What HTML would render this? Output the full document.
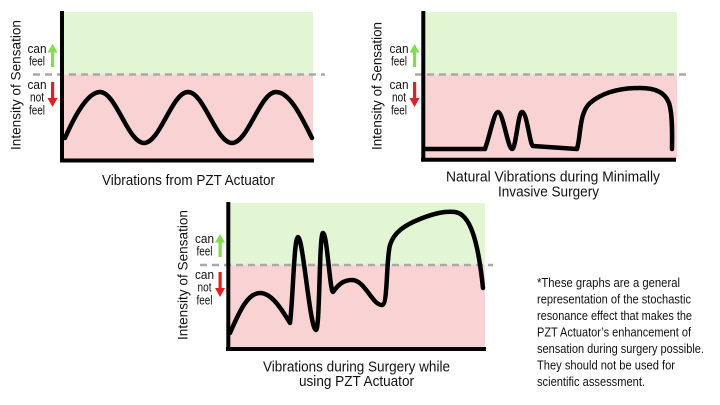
<!DOCTYPE html>
<html>
<head>
<meta charset="utf-8">
<style>
html,body{margin:0;padding:0;background:#fff;}
svg{display:block;}
text{font-family:"Liberation Sans",Arial,sans-serif;fill:#111;}
</style>
</head>
<body>
<svg width="720" height="405" viewBox="0 0 720 405" xmlns="http://www.w3.org/2000/svg">
  <rect width="720" height="405" fill="#fff"/>
  <defs>
    <g id="lab">
      <text x="37" y="53" font-size="13" text-anchor="middle" textLength="19" lengthAdjust="spacingAndGlyphs">can</text>
      <text x="37" y="65.5" font-size="13" text-anchor="middle" textLength="16" lengthAdjust="spacingAndGlyphs">feel</text>
      <text x="37" y="89" font-size="13" text-anchor="middle" textLength="19" lengthAdjust="spacingAndGlyphs">can</text>
      <text x="37" y="101.5" font-size="13" text-anchor="middle" textLength="14" lengthAdjust="spacingAndGlyphs">not</text>
      <text x="37" y="114.5" font-size="13" text-anchor="middle" textLength="16" lengthAdjust="spacingAndGlyphs">feel</text>
      <polygon points="52.5,44 57.5,52.5 47.5,52.5" fill="#7edf48"/>
      <rect x="51" y="52" width="3.2" height="15" fill="#7edf48"/>
      <rect x="51" y="82" width="3.2" height="16.5" fill="#e61e1e"/>
      <polygon points="47.5,98 57.5,98 52.5,107" fill="#e61e1e"/>
    </g>
  </defs>

  <!-- ===== Plot 1 ===== -->
  <rect x="62" y="12" width="251" height="62.5" fill="#e3f6d3"/>
  <rect x="62" y="74.5" width="251" height="86" fill="#f9d3d3"/>
  <line x1="33" y1="74.5" x2="325" y2="74.5" stroke="#a9a9a9" stroke-width="2.5" stroke-dasharray="7,5"/>
  <line x1="62" y1="11" x2="62" y2="162" stroke="#000" stroke-width="4"/>
  <line x1="60" y1="160.5" x2="314" y2="160.5" stroke="#000" stroke-width="4"/>
  <path d="M65,138 C75,115 88,92 100,92 C116,92 128,143 144,143 C160,143 172,92 188,92 C204,92 216,143 232,143 C248,143 260,92 276,92 C290,92 302,118 312,138"
        fill="none" stroke="#000" stroke-width="4.5" stroke-linecap="round" stroke-linejoin="round"/>
  <use href="#lab"/>
  <text transform="translate(20.5,85) rotate(-90)" font-size="13.5" text-anchor="middle" textLength="130" lengthAdjust="spacingAndGlyphs">Intensity of Sensation</text>
  <text x="102" y="185" font-size="15" textLength="173" lengthAdjust="spacingAndGlyphs">Vibrations from PZT Actuator</text>

  <!-- ===== Plot 2 ===== -->
  <rect x="423" y="12" width="254" height="62.5" fill="#e3f6d3"/>
  <rect x="423" y="74.5" width="254" height="85" fill="#f9d3d3"/>
  <line x1="415" y1="74.5" x2="687" y2="74.5" stroke="#a9a9a9" stroke-width="2.5" stroke-dasharray="7,5"/>
  <line x1="423.3" y1="11" x2="423.3" y2="161.5" stroke="#000" stroke-width="4"/>
  <line x1="421" y1="159.7" x2="676" y2="159.7" stroke="#000" stroke-width="4"/>
  <path d="M426,149 L485,149 C490,135 494,112 498,112 C503,112 508,149 512,149 C516,149 518,112 522,112 C527,112 530,146 533,146 L577,149 C581,135 579,113 590,103 C603,92 620,88 640,88 C657,88 665,93 669,103 C673,115 672,140 672,149"
        fill="none" stroke="#000" stroke-width="4.5" stroke-linecap="round" stroke-linejoin="round"/>
  <use href="#lab" transform="translate(362,0)"/>
  <text transform="translate(381.5,86) rotate(-90)" font-size="13.5" text-anchor="middle" textLength="128" lengthAdjust="spacingAndGlyphs">Intensity of Sensation</text>
  <text x="446" y="181.5" font-size="15" textLength="214" lengthAdjust="spacingAndGlyphs">Natural Vibrations during Minimally</text>
  <text x="498" y="196.5" font-size="15" textLength="101" lengthAdjust="spacingAndGlyphs">Invasive Surgery</text>

  <!-- ===== Plot 3 ===== -->
  <rect x="228" y="203" width="257" height="62" fill="#e3f6d3"/>
  <rect x="228" y="265" width="257" height="83.5" fill="#f9d3d3"/>
  <line x1="200" y1="265" x2="493" y2="265" stroke="#a9a9a9" stroke-width="2.5" stroke-dasharray="7,5"/>
  <line x1="228.3" y1="202" x2="228.3" y2="350.5" stroke="#000" stroke-width="4"/>
  <line x1="226" y1="349" x2="486" y2="349" stroke="#000" stroke-width="4"/>
  <path d="M230,333 C240,310 248,293 260,293 C272,293 282,310 290,323 C293,300 294,237 298,237 C303,237 310,330 316,330 C320,330 319,233 323,233 C327,233 330,292 333,292 C338,285 343,280 352,280 C365,280 372,305 382,305 C388,305 386,260 390,245 C394,232 405,225 420,219 C435,213 445,211 455,212 C470,214 478,240 483,288"
        fill="none" stroke="#000" stroke-width="4.5" stroke-linecap="round" stroke-linejoin="round"/>
  <use href="#lab" transform="translate(167.5,190)"/>
  <text transform="translate(187.5,275) rotate(-90)" font-size="13.5" text-anchor="middle" textLength="130" lengthAdjust="spacingAndGlyphs">Intensity of Sensation</text>
  <text x="263" y="371.5" font-size="15" textLength="187" lengthAdjust="spacingAndGlyphs">Vibrations during Surgery while</text>
  <text x="299" y="386" font-size="15" textLength="115" lengthAdjust="spacingAndGlyphs">using PZT Actuator</text>

  <!-- ===== Note ===== -->
  <g font-size="12.5" lengthAdjust="spacingAndGlyphs">
    <text x="537" y="287" textLength="143" lengthAdjust="spacingAndGlyphs">*These graphs are a general</text>
    <text x="537" y="303.5" textLength="154" lengthAdjust="spacingAndGlyphs">representation of the stochastic</text>
    <text x="537" y="320" textLength="155" lengthAdjust="spacingAndGlyphs">resonance effect that makes the</text>
    <text x="537" y="336.5" textLength="154" lengthAdjust="spacingAndGlyphs">PZT Actuator’s enhancement of</text>
    <text x="537" y="353" textLength="167" lengthAdjust="spacingAndGlyphs">sensation during surgery possible.</text>
    <text x="537" y="369.5" textLength="138" lengthAdjust="spacingAndGlyphs">They should not be used for</text>
    <text x="537" y="386" textLength="108" lengthAdjust="spacingAndGlyphs">scientific assessment.</text>
  </g>
</svg>
</body>
</html>
